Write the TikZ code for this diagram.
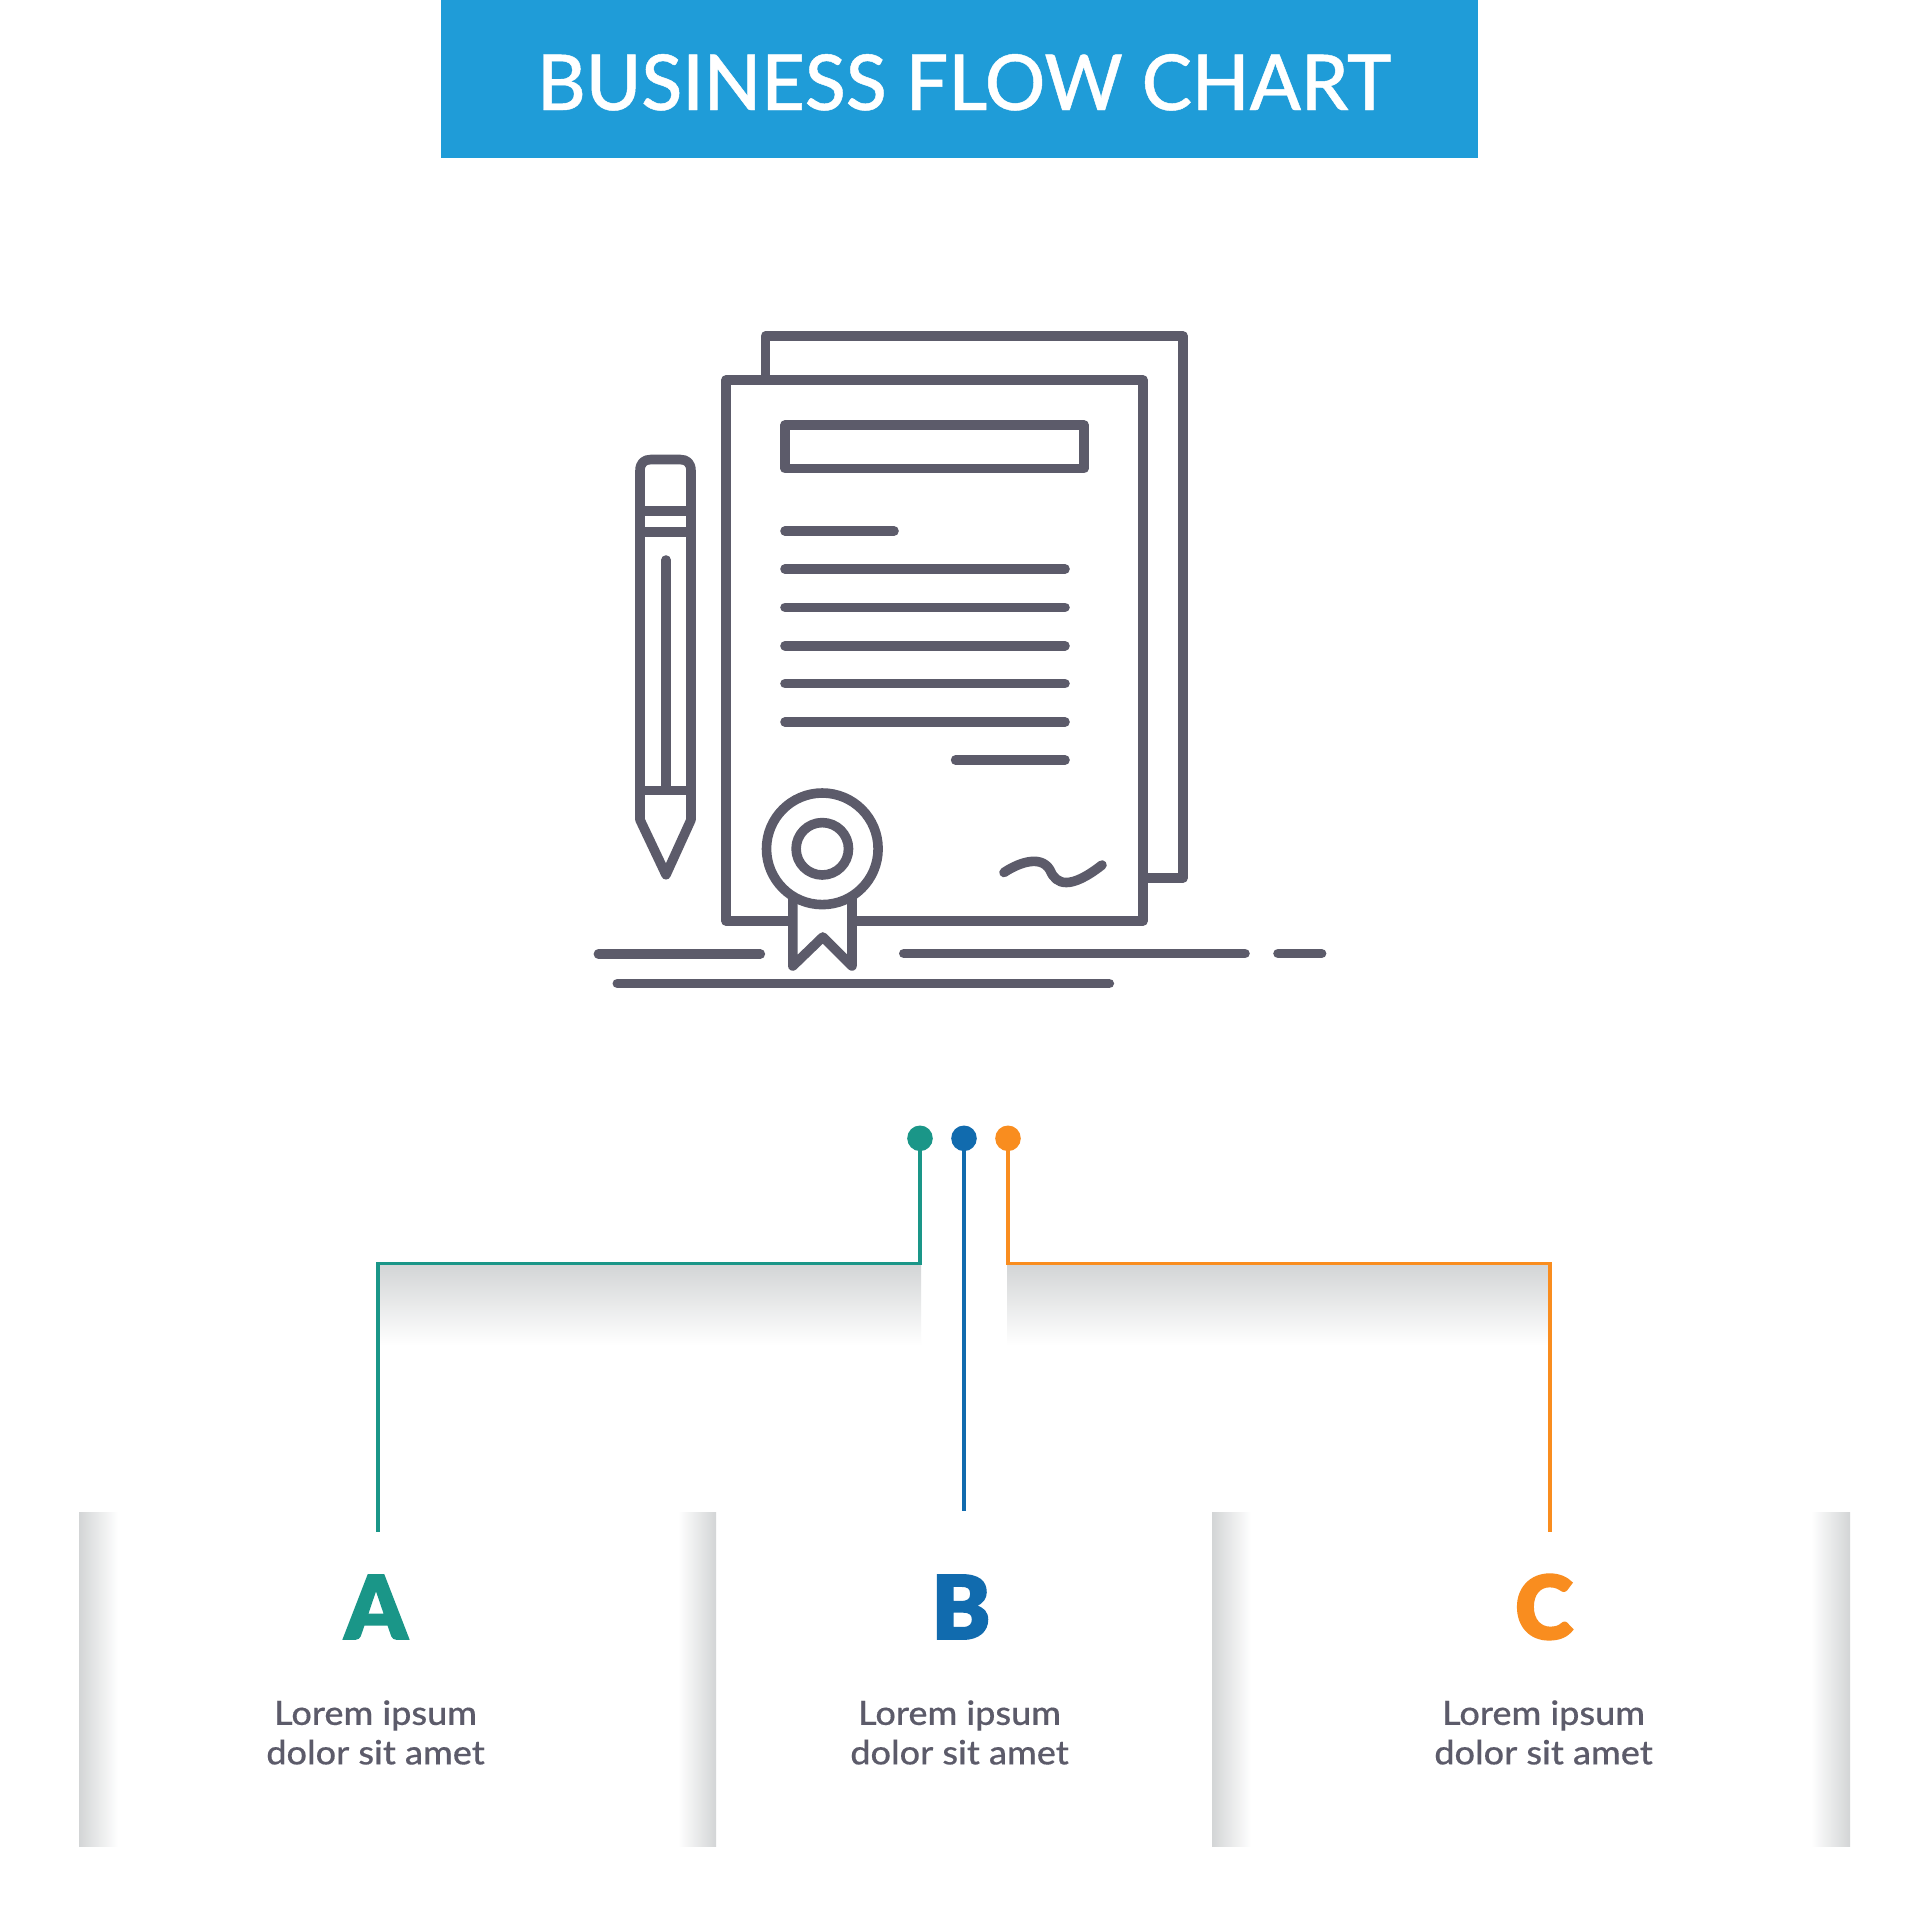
\documentclass[tikz,border=0pt]{standalone}
\usepackage{fontspec}
\setmainfont{Lato}
\newfontfamily\heavyfont{Lato Black}[FakeBold=2]
\newfontfamily\titlefont{Lato Medium}[FakeStretch=0.978,FakeBold=0.6]
\newfontfamily\capfont{Lato Medium}[FakeStretch=1.075,FakeBold=0.3]
\definecolor{banner}{HTML}{1F9CD8}
\definecolor{ink}{HTML}{5C5B6A}
\definecolor{teal}{HTML}{1A9688}
\definecolor{bluec}{HTML}{116BAE}
\definecolor{orangec}{HTML}{F98D1F}
\definecolor{shadow}{HTML}{D3D5D6}
\tikzset{
  icon/.style={draw=ink,line width=9.6pt,line join=round,line cap=round},
  dot/.style={circle,inner sep=0pt,minimum size=25.6pt,fill=#1},
  wire/.style={draw=#1,line width=3.2pt,line join=miter},
  letter/.style={font=\heavyfont\fontsize{88}{88}\selectfont,anchor=base,inner sep=0pt,text=#1},
  caption/.style={font=\capfont\fontsize{33.5}{39.5}\selectfont,align=center,text=ink,inner sep=0pt},
}
\begin{document}
\begin{tikzpicture}[x=1pt,y=-1pt]
\useasboundingbox (0,0) rectangle (1920,1920);
\fill[white] (0,0) rectangle (1920,1920);
% banner
\fill[banner] (441,0) rectangle (1478,158);
\node[font=\titlefont\fontsize{77}{77}\selectfont,text=white,anchor=base,inner sep=0pt] (title) at (964,110) {BUSINESS FLOW CHART};
% shading under connectors
\shade[top color=shadow,bottom color=white] (378,1265) rectangle (921,1345);
\shade[top color=shadow,bottom color=white] (1007,1265) rectangle (1550,1345);
% panels
\shade[left color=shadow,right color=white] (79,1512) rectangle (118,1846);
\shade[left color=white,right color=shadow] (678,1512) rectangle (716,1846);
\shade[left color=shadow,right color=white] (1212,1512) rectangle (1251,1846);
\shade[left color=white,right color=shadow] (1811,1512) rectangle (1850,1846);
% icon: sheets
\draw[icon] (765.6,380) -- (765.6,336) -- (1183,336) -- (1183,878) -- (1143,878);
\draw[icon] (726,380) rectangle (1143,921);
\draw[icon] (785,425) rectangle (1084,468.5);
\draw[icon] (785,531) -- (894,531);
\foreach \yy in {569,607.3,645.7,683.6,722}{\draw[icon] (785,\yy) -- (1065,\yy);}
\draw[icon] (955.6,760) -- (1065,760);
% signature
\draw[icon] (1004,872.5) .. controls (1015,865) and (1040,853) .. (1050,870)
  .. controls (1056,885) and (1070,890) .. (1102,865);
% pencil
\draw[icon] (640,819.8) -- (640,471) .. controls (640,463) and (644,459.5) .. (651,459.5)
  -- (680,459.5) .. controls (687,459.5) and (691,463) .. (691,471) -- (691,819.8) -- (666,874.7) -- cycle;
\draw[icon,line cap=butt] (640,511) -- (691,511);
\draw[icon,line cap=butt] (640,532) -- (691,532);
\draw[icon,line cap=butt] (640,790.3) -- (691,790.3);
\draw[icon] (666,560) -- (666,790);
% ribbon and seal
\draw[icon,fill=white] (792.8,890) -- (792.8,966) -- (822.8,937) -- (852,966) -- (852,890);
\draw[icon,fill=white] (822.3,848.8) circle[radius=55.8];
\draw[icon] (822.3,848.8) circle[radius=26.2];
% ground lines
\draw[icon] (598.4,954) -- (760.3,954);
\draw[icon] (903.8,953.5) -- (1245,953.5);
\draw[icon] (1278,953.5) -- (1321.6,953.5);
\draw[icon] (617.3,983.5) -- (1109.3,983.5);
% dots and connectors
\node[dot=teal] (da) at (920,1138.3) {};
\node[dot=bluec] (db) at (964,1138.3) {};
\node[dot=orangec] (dc) at (1008,1138.3) {};
\coordinate (ea) at (378,1531.7);
\coordinate (eb) at (964,1511);
\coordinate (ec) at (1550,1531.7);
\draw[wire=teal] (da) |- (ea |- 0,1263.7) -- (ea);
\draw[wire=bluec] (db) -- (eb);
\draw[wire=orangec] (dc) |- (ec |- 0,1263.7) -- (ec);
% letters
\node[letter=teal] (la) at (376,1639) {A};
\node[letter=bluec] (lb) at (961,1639) {B};
\node[letter=orangec] (lc) at (1544,1639) {C};
% captions
\node[caption] (ca) at (375.5,1732.5) {Lorem ipsum\\dolor sit amet};
\node[caption] (cb) at (959.5,1732.5) {Lorem ipsum\\dolor sit amet};
\node[caption] (cc) at (1543.5,1732.5) {Lorem ipsum\\dolor sit amet};
\end{tikzpicture}
\end{document}
